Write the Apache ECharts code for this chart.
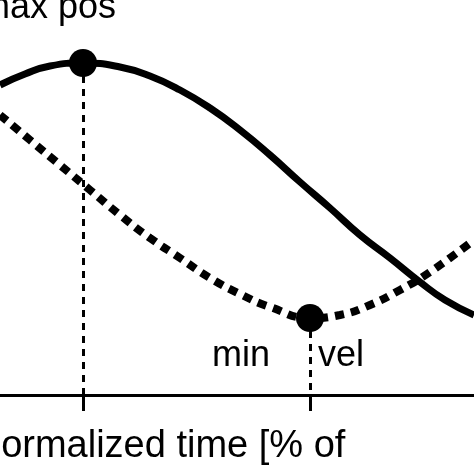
<!DOCTYPE html>
<html><head><meta charset="utf-8">
<script src="https://cdn.jsdelivr.net/npm/echarts@6/dist/echarts.min.js"></script>
<style>html,body{margin:0;padding:0;background:#fff}#c{width:474px;height:474px}</style>
</head><body><div id="c"></div>
<script>
// time (px-scaled units) and curve heights
const posX = [0,25,50,83,120,150,180,210,240,270,300,330,360,390,420,445,474];
const posY = [310,321,329,332,328,319,305,287,265,240,213,187,160,137,113,95,80];
const velX = [0,30,60,90,120,150,180,210,240,270,310,340,370,400,430,474];
const velY = [280,255,230,205,180,157,137,117,101,88,77,80,90,105,123,155];
const markers = [[83,332],[310,77]];
const tickVals = [83,310];

const chart = echarts.init(document.getElementById('c'));
const F = 'Liberation Sans, Arial, sans-serif';
chart.setOption({
  animation:false,
  grid:{left:0,right:0,top:0,bottom:79},
  xAxis:{type:'value',min:0,max:474,splitLine:{show:false},
    axisLine:{lineStyle:{color:'#000',width:3}},
    axisTick:{customValues:tickVals,length:16,inside:false,lineStyle:{color:'#000',width:3}},
    axisLabel:{show:false}},
  yAxis:{type:'value',min:0,max:395,show:false},
  series:[
    {type:'line',data:posX.map((x,i)=>[x,posY[i]]),smooth:true,symbol:'none',
      lineStyle:{color:'#000',width:7}},
    {type:'line',data:velX.map((x,i)=>[x,velY[i]]),smooth:true,symbol:'none',
      lineStyle:{color:'#000',width:8,type:[9,7]}},
    {type:'scatter',data:markers,symbolSize:28,
      itemStyle:{color:'#000',opacity:1},z:5,
      markLine:{symbol:'none',silent:true,label:{show:false},
        lineStyle:{color:'#000',width:3,type:[7,6]},
        data:markers.map(m=>[{coord:[m[0],m[1]]},{coord:[m[0],0]}])}}
  ],
  graphic:[
    {type:'text',left:-20,top:-10,style:{text:'max pos',font:'36px '+F,fill:'#000'}},
    {type:'text',left:212,top:338,style:{text:'min',font:'36px '+F,fill:'#000'}},
    {type:'text',left:318,top:338,style:{text:'vel',font:'36px '+F,fill:'#000'}},
    {type:'text',left:-20,top:428,style:{text:'normalized time [% of',font:'38px '+F,fill:'#000'}}
  ]
});
</script></body></html>
